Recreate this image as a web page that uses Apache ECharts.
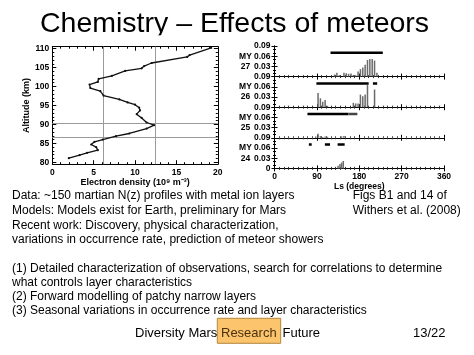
<!DOCTYPE html>
<html><head><meta charset="utf-8">
<script src="https://cdn.jsdelivr.net/npm/echarts@6/dist/echarts.min.js"></script>
<style>html,body{margin:0;padding:0;background:#fff}#c{width:474px;height:355px}</style>
</head><body><div id="c"></div>
<script>
// ---- left panel: electron density profile ----
const densityTicks = [0, 5, 10, 15, 20];
const altitudeTicks = [80, 85, 90, 95, 100, 105, 110];
const profile = [ // [electron density (1e9 m^-3), altitude (km)]
  [2.0,81.1],[3.3,81.9],[4.2,82.5],[5.5,83.2],[5.3,84.0],[4.7,84.7],[5.1,85.4],[6.1,86.0],
  [7.7,86.9],[9.3,87.6],[11.4,88.9],[12.3,89.8],[11.4,90.5],[10.8,91.7],[10.2,92.7],
  [10.6,93.7],[10.5,94.4],[10.0,95.2],[9.1,95.8],[8.1,96.6],[6.2,97.6],[5.8,98.8],
  [4.6,99.6],[4.5,100.5],[5.5,101.2],[5.6,102.0],[7.2,102.8],[8.8,104.1],[10.8,104.8],
  [11.1,105.4],[12.0,106.2],[16.3,107.8],[16.6,108.3],[19.2,110.2]
];
const refDensity = [6.2, 12.4];
const refAltitude = [90.2, 86.7];

// ---- right panels: occurrence rate vs Ls ----
const lsTicks = [0, 90, 180, 270, 360];
const rateTicks = [0, 0.03, 0.06, 0.09];
const years = ['27', '26', '25', '24'];
const rate27 = [[127.5,0.006],[132.5,0.011],[137.5,0.004],[147.5,0.011],[152.5,0.010],[157.5,0.008],
  [162.5,0.009],[167.5,0.005],[172.5,0.004],[177.5,0.015],[182.5,0.022],[187.5,0.027],[192.5,0.035],
  [197.5,0.049],[202.5,0.052],[207.5,0.052],[212.5,0.047],[217.5,0.011]];
const rate26 = [[92.5,0.042],[97.5,0.026],[102.5,0.016],[107.5,0.021],[112.5,0.004],[167.5,0.013],
  [172.5,0.011],[177.5,0.011],[182.5,0.037],[187.5,0.032],[192.5,0.037],[197.5,0.065],[212.5,0.052]];
const rate25 = [[87.5,0.004],[92.5,0.012],[97.5,0.005],[102.5,0.002],[107.5,0.004],[112.5,0.003],
  [142.5,0.004],[147.5,0.005]];
const rate24 = [[135,0.008],[139,0.013],[142.5,0.017],[146,0.022]];
const coverage27 = [[119,230]];
const coverage26 = [[89,200],[209,218]];
const coverage25 = [[70,157],[157,176]];
const coverage24 = [[73,79],[107,118],[134,149]];
const coverageLevel = 0.07;

const rates = [rate27, rate26, rate25, rate24];
const coverages = [coverage27, coverage26, coverage25, coverage24];

const altitudeMinor = [];
for (let a = altitudeTicks[0]; a <= altitudeTicks[altitudeTicks.length - 1]; a++) altitudeMinor.push(a);

const FONT = 'Liberation Sans';
const lab = { fontFamily: FONT, fontWeight: 'bold', fontSize: 8.5, color: '#000' };
const line = { lineStyle: { color: '#000', width: 1 } };

const grid = [{ left: 52.3, top: 46.7, width: 165.5, height: 117.5 }];
const panelTop = 46, panelH = 30.6;
for (let i = 0; i < 4; i++) grid.push({ left: 274.5, top: panelTop + i * panelH, width: 169.5, height: panelH });

const xAxis = [
  { gridIndex: 0, type: 'value', min: 0, max: 20, interval: 5, position: 'bottom',
    axisLine: line, axisTick: { inside: true, length: 4, lineStyle: { color: '#000' } },
    minorTick: { show: true, splitNumber: 5, length: 2, lineStyle: { color: '#000' } },
    splitLine: { show: false }, axisLabel: Object.assign({ margin: 4 }, lab),
    name: 'Electron density (10⁹ m⁻³)', nameLocation: 'middle', nameGap: 12,
    nameTextStyle: { fontFamily: FONT, fontWeight: 'bold', fontSize: 9, color: '#000' } },
  { gridIndex: 0, type: 'value', min: 0, max: 20, interval: 5, position: 'top',
    axisLine: line, axisTick: { inside: true, length: 4, lineStyle: { color: '#000' } },
    minorTick: { show: true, splitNumber: 5, length: 2, lineStyle: { color: '#000' } },
    splitLine: { show: false }, axisLabel: { show: false } }
];
const yAxis = [
  { gridIndex: 0, type: 'value', min: 79.5, max: 110.5, position: 'left',
    axisLine: line, axisTick: { inside: true, length: 4, customValues: altitudeTicks, lineStyle: { color: '#000' } },
    splitLine: { show: false }, axisLabel: Object.assign({ margin: 3, customValues: altitudeTicks }, lab),
    name: 'Altitude (km)', nameLocation: 'middle', nameRotate: 90, nameGap: 18,
    nameTextStyle: { fontFamily: FONT, fontWeight: 'bold', fontSize: 9, color: '#000' } },
  { gridIndex: 0, type: 'value', min: 79.5, max: 110.5, position: 'left',
    axisLine: { show: false }, axisTick: { inside: true, length: 2, customValues: altitudeMinor, lineStyle: { color: '#000' } },
    splitLine: { show: false }, axisLabel: { show: false } },
  { gridIndex: 0, type: 'value', min: 79.5, max: 110.5, position: 'right',
    axisLine: line, axisTick: { inside: true, length: 4, customValues: altitudeTicks, lineStyle: { color: '#000' } },
    splitLine: { show: false }, axisLabel: { show: false } },
  { gridIndex: 0, type: 'value', min: 79.5, max: 110.5, position: 'right',
    axisLine: { show: false }, axisTick: { inside: true, length: 2, customValues: altitudeMinor, lineStyle: { color: '#000' } },
    splitLine: { show: false }, axisLabel: { show: false } }
];

for (let i = 0; i < 4; i++) {
  const last = i === 3;
  const xb = { gridIndex: i + 1, type: 'value', min: lsTicks[0], max: lsTicks[lsTicks.length - 1], interval: 90,
    position: 'bottom', axisLine: line,
    axisTick: { inside: true, length: 3, lineStyle: { color: '#000' } },
    minorTick: { show: true, splitNumber: 9, length: 1.5, lineStyle: { color: '#333' } },
    splitLine: { show: false }, axisLabel: last ? Object.assign({ margin: 4 }, lab) : { show: false } };
  if (last) {
    xb.name = 'Ls (degrees)'; xb.nameLocation = 'middle'; xb.nameGap = 9.5;
    xb.nameTextStyle = { fontFamily: FONT, fontWeight: 'bold', fontSize: 8.5, color: '#000' };
  }
  xAxis[2 + i] = xb;
  xAxis[6 + i] = { gridIndex: i + 1, type: 'value', min: 0, max: 360, interval: 90, position: 'top',
    axisLine: line, axisTick: { inside: true, length: 3, lineStyle: { color: '#000' } },
    minorTick: { show: true, splitNumber: 9, length: 1.5, lineStyle: { color: '#333' } },
    splitLine: { show: false }, axisLabel: { show: false } };
  const yr = years[i];
  yAxis[4 + i] = { gridIndex: i + 1, type: 'value', min: rateTicks[0], max: rateTicks[3], interval: 0.03,
    position: 'left', axisLine: line,
    axisTick: { inside: true, length: 3, lineStyle: { color: '#000' } },
    minorTick: { show: true, splitNumber: 3, length: 1.5, lineStyle: { color: '#000' } },
    splitLine: { show: false },
    axisLabel: { margin: 4, fontFamily: FONT, fontWeight: 'bold', fontSize: 8.5, color: '#000',
      formatter: function (v) {
        const r = Math.round(v * 100) / 100;
        if (r === 0.06) return '{n|MY}{v|0.06}';
        if (r === 0.03) return '{n|' + yr + '}{v|0.03}';
        if (r === 0) return last ? '{v|0}' : '';
        return '{v|' + r.toFixed(2) + '}';
      },
      rich: { n: { width: 17, align: 'center', fontFamily: FONT, fontWeight: 'bold', fontSize: 8.5, color: '#000' },
              v: { fontFamily: FONT, fontWeight: 'bold', fontSize: 8.5, color: '#000' } } } };
  yAxis[8 + i] = { gridIndex: i + 1, type: 'value', min: 0, max: 0.09, interval: 0.03, position: 'right',
    axisLine: line, axisTick: { inside: true, length: 3, lineStyle: { color: '#000' } },
    minorTick: { show: true, splitNumber: 3, length: 1.5, lineStyle: { color: '#000' } },
    splitLine: { show: false }, axisLabel: { show: false } };
}

const series = [
  { type: 'line', xAxisIndex: 0, yAxisIndex: 0, data: [], z: 1, silent: true,
    markLine: { silent: true, symbol: 'none', animation: false, label: { show: false },
      lineStyle: { color: '#9a9a9a', width: 1, type: 'solid' },
      data: refDensity.map(v => ({ xAxis: v })).concat(refAltitude.map(v => ({ yAxis: v }))) } },
  { type: 'line', xAxisIndex: 0, yAxisIndex: 0, data: profile, z: 5, animation: false,
    lineStyle: { color: '#111', width: 1.3 }, itemStyle: { color: '#111' },
    symbol: 'circle', symbolSize: 2.2, showSymbol: true }
];
for (let i = 0; i < 4; i++) {
  series.push({ type: 'bar', xAxisIndex: 2 + i, yAxisIndex: 4 + i, data: rates[i], barWidth: 1.5,
    itemStyle: { color: '#6a6a6a' }, animation: false });
  coverages[i].forEach((s, k) => {
    series.push({ type: 'line', xAxisIndex: 2 + i, yAxisIndex: 4 + i, symbol: 'none', animation: false,
      data: [[s[0], coverageLevel], [s[1], coverageLevel]],
      lineStyle: { color: (i === 2 && k === 1) ? '#444' : '#000', width: 2.5 } });
  });
}

function txt(x, y, t, size, extra) {
  return { type: 'text', x: x, y: y, z: 100,
    style: Object.assign({ text: t, fontFamily: FONT, fontSize: size, fill: '#000', verticalAlign: 'middle' }, extra || {}) };
}
const body = [
  ['Data: ~150 martian N(z) profiles with metal ion layers', 196],
  ['Models: Models exist for Earth, preliminary for Mars', 211],
  ['Recent work: Discovery, physical characterization,', 225.5],
  ['variations in occurrence rate, prediction of meteor showers', 240],
  ['(1) Detailed characterization of observations, search for correlations to determine', 268.3],
  ['what controls layer characteristics', 282.5],
  ['(2) Forward modelling of patchy narrow layers', 296.5],
  ['(3) Seasonal variations in occurrence rate and layer characteristics', 310.8]
];
const graphic = [
  txt(40, 24.5, 'Chemistry – Effects of meteors', 28.5),
  { type: 'rect', z: 101, shape: { x: 148, y: 35.3, width: 30, height: 6 }, style: { fill: '#fff' } },
  txt(352.7, 196, 'Figs B1 and 14 of', 12),
  txt(352.7, 211, 'Withers et al. (2008)', 12),
  { type: 'rect', z: 99, shape: { x: 217.3, y: 318.3, width: 63.4, height: 25 },
    style: { fill: '#fcc46c', stroke: '#b3883f', lineWidth: 1 } },
  txt(135, 333.3, 'Diversity Mars ', 13),
  txt(221, 333.3, 'Research', 13, { fill: '#4a3210' }),
  txt(282.5, 333.3, 'Future', 13),
  txt(413, 333.3, '13/22', 13)
].concat(body.map(b => txt(12, b[1], b[0], 12)));

const chart = echarts.init(document.getElementById('c'), null, { renderer: 'canvas' });
chart.setOption({ animation: false, backgroundColor: '#fff', grid, xAxis, yAxis, series, graphic });
</script></body></html>
